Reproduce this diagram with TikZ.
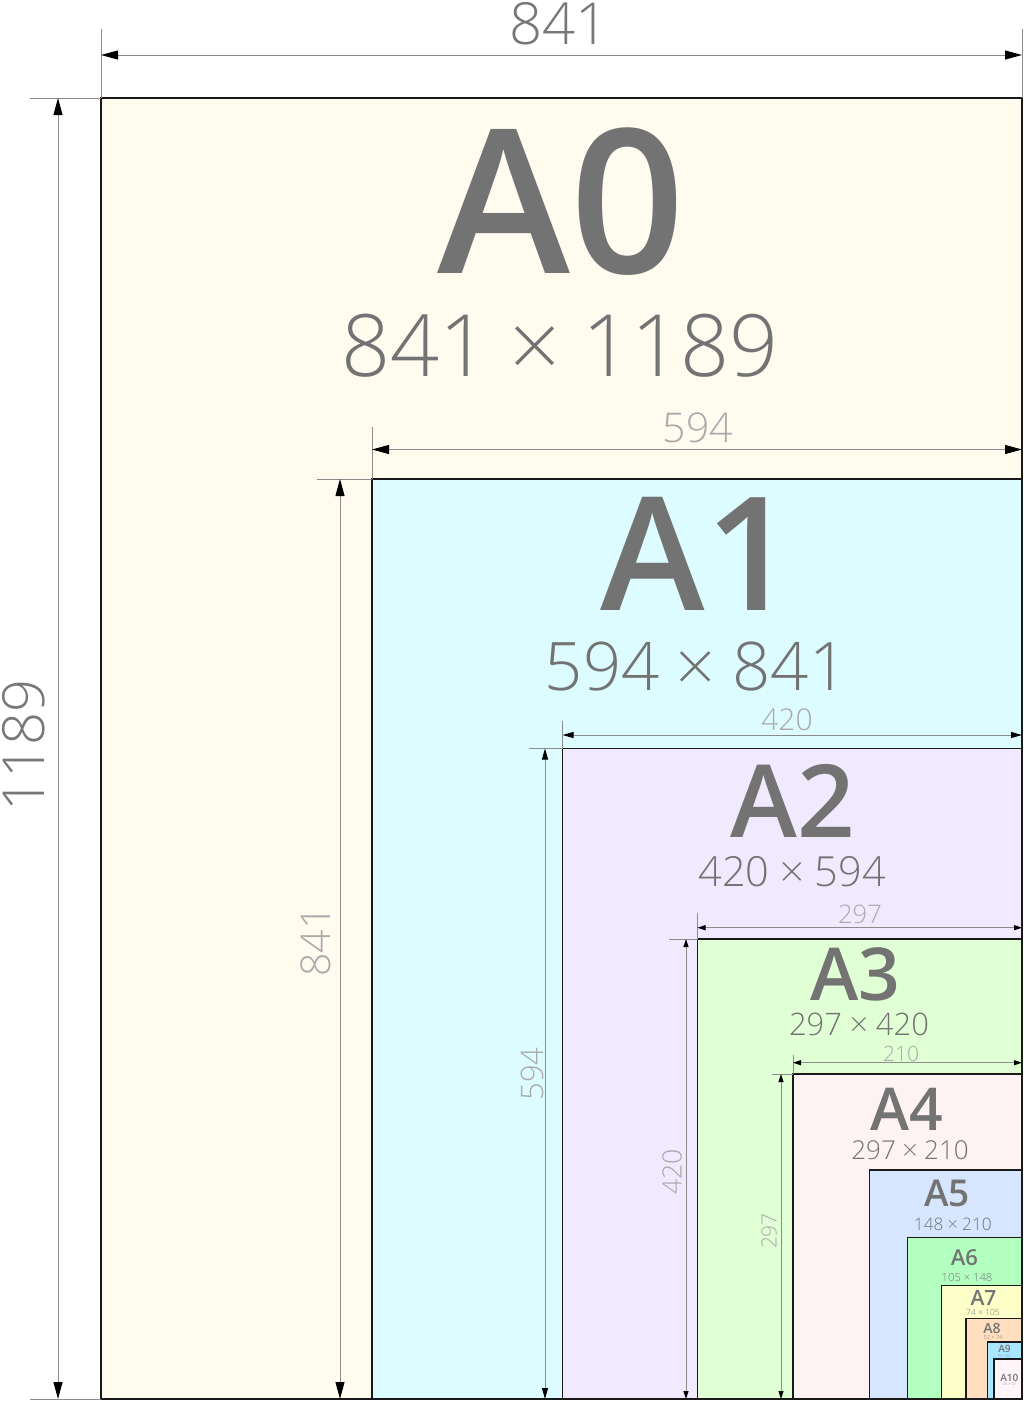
\documentclass[tikz,border=0pt]{standalone}
\usepackage{fontspec}
\setmainfont{Open Sans}
\newfontfamily\numfont{Open Sans Light}
\newfontfamily\labfont{Open Sans Semibold}
\usetikzlibrary{arrows.meta}
\definecolor{c0}{HTML}{FFFBEF}
\definecolor{c1}{HTML}{DCFCFF}
\definecolor{c2}{HTML}{F1EAFE}
\definecolor{c3}{HTML}{E0FFD4}
\definecolor{c4}{HTML}{FFF2F2}
\definecolor{c5}{HTML}{D6E6FF}
\definecolor{c6}{HTML}{B3FFC0}
\definecolor{c7}{HTML}{FDFFC8}
\definecolor{c8}{HTML}{FFDFC0}
\definecolor{c9}{HTML}{AAE6FF}
\definecolor{c10}{HTML}{FFF4F8}
\definecolor{labgray}{HTML}{737373}
\definecolor{dimtxt}{HTML}{AAAAAA}
\definecolor{bigdimtxt}{HTML}{777777}
\definecolor{dimgray}{HTML}{8C8C8C}
\newcommand\fs[1]{\fontsize{#1}{#1}\selectfont}
\tikzset{
  paper/.style={draw=black!90, line width=1.5pt},
  dimline/.style={draw=dimgray, line width=1pt},
  lab/.style={anchor=base, inner sep=0pt, text=labgray},
  dimlab/.style={anchor=base, inner sep=0pt, text=dimtxt},
  bigdimlab/.style={anchor=base, inner sep=0pt, text=bigdimtxt},
  dimA/.style={dimline, {Triangle[length=17pt,width=9pt,color=black]}-{Triangle[length=17pt,width=9pt,color=black]}},
  dimB/.style={dimline, {Triangle[length=11pt,width=6pt,color=black]}-{Triangle[length=11pt,width=6pt,color=black]}},
  dimC/.style={dimline, {Triangle[length=8pt,width=5pt,color=black]}-{Triangle[length=8pt,width=5pt,color=black]}},
}
\begin{document}
\begin{tikzpicture}[x=1pt,y=-1pt]
\fill[white] (0,0) rectangle (1024,1401);
\useasboundingbox (0,0) rectangle (1024,1401);
% corners
\coordinate (br) at (1022,1399);
\coordinate (p0) at (101,98);
\coordinate (p1) at (372,479);
\coordinate (p2) at (562.5,748.5);
\coordinate (p3) at (697.5,939);
\coordinate (p4) at (793,1074);
\coordinate (p5) at (869.3,1170);
\coordinate (p6) at (907.7,1237.7);
\coordinate (p7) at (941.7,1285.3);
\coordinate (p8) at (966,1318.7);
\coordinate (p9) at (987.5,1342.2);
\coordinate (p10) at (994.2,1359.2);
% papers
\draw[paper, fill=c0] (p0) rectangle (br);
\draw[paper, fill=c1] (p1) rectangle (br);
\draw[paper, fill=c2] (p2) rectangle (br);
\draw[paper, fill=c3] (p3) rectangle (br);
\draw[paper, fill=c4] (p4) rectangle (br);
\draw[paper, fill=c5] (p5) rectangle (br);
\draw[paper, fill=c6] (p6) rectangle (br);
\draw[paper, fill=c7] (p7) rectangle (br);
\draw[paper, fill=c8] (p8) rectangle (br);
\draw[paper, fill=c9] (p9) rectangle (br);
\draw[paper, fill=c10] (p10) rectangle (br);
% ---- A0 dimensions
\coordinate (e0a) at (101,29); \coordinate (e0b) at (1022,29); \coordinate (e0c) at (1022,98);
\coordinate (e0d) at (30,98); \coordinate (e0e) at (30,1399); \coordinate (e0f) at (101,1399);
\draw[dimline] (e0a) -- (p0);
\draw[dimline] (e0b) -- (e0c);
\draw[dimline] (e0d) -- (p0);
\draw[dimline] (e0e) -- (e0f);
\coordinate (h0a) at (101,55); \coordinate (h0b) at (1022,55);
\coordinate (v0a) at (58,98); \coordinate (v0b) at (58,1399);
\draw[dimA] (h0a) -- (h0b);
\draw[dimA] (v0a) -- (v0b);
\node[bigdimlab, font=\numfont\fs{58}] (t0h) at (559,44) {841};
\node[bigdimlab, rotate=90, font=\numfont\fs{58}] (t0v) at (44,745.5) {1189};
% ---- A1 dimensions
\coordinate (e1a) at (372,427); \coordinate (e1d) at (317,479);
\draw[dimline] (e1a) -- (p1);
\draw[dimline] (e1d) -- (p1);
\coordinate (h1a) at (372,449.5); \coordinate (h1b) at (1022,449.5);
\coordinate (v1a) at (340,479); \coordinate (v1b) at (340,1399);
\draw[dimA] (h1a) -- (h1b);
\draw[dimA] (v1a) -- (v1b);
\node[dimlab, font=\numfont\fs{41}] (t1h) at (698,442.7) {594};
\node[dimlab, rotate=90, font=\numfont\fs{41}] (t1v) at (330,941.5) {841};
% ---- A2 dimensions
\coordinate (e2a) at (562.5,721); \coordinate (e2d) at (529,748.5);
\draw[dimline] (e2a) -- (p2);
\draw[dimline] (e2d) -- (p2);
\coordinate (h2a) at (562.5,735); \coordinate (h2b) at (1022,735);
\coordinate (v2a) at (545,748.5); \coordinate (v2b) at (545,1399);
\draw[dimB] (h2a) -- (h2b);
\draw[dimB] (v2a) -- (v2b);
\node[dimlab, font=\numfont\fs{30}] (t2h) at (787,730.7) {420};
\node[dimlab, rotate=90, font=\numfont\fs{31}] (t2v) at (543.3,1074) {594};
% ---- A3 dimensions
\coordinate (e3a) at (697.5,913); \coordinate (e3d) at (669,939);
\draw[dimline] (e3a) -- (p3);
\draw[dimline] (e3d) -- (p3);
\coordinate (h3a) at (697.5,927.7); \coordinate (h3b) at (1022,927.7);
\coordinate (v3a) at (686,939); \coordinate (v3b) at (686,1399);
\draw[dimC] (h3a) -- (h3b);
\draw[dimC] (v3a) -- (v3b);
\node[dimlab, font=\numfont\fs{25.6}] (t3h) at (860,923.3) {297};
\node[dimlab, rotate=90, font=\numfont\fs{26.6}] (t3v) at (681.7,1172) {420};
% ---- A4 dimensions
\coordinate (e4a) at (793,1055); \coordinate (e4d) at (772,1074);
\draw[dimline] (e4a) -- (p4);
\draw[dimline] (e4d) -- (p4);
\coordinate (h4a) at (793,1062.7); \coordinate (h4b) at (1022,1062.7);
\coordinate (v4a) at (781,1074); \coordinate (v4b) at (781,1399);
\draw[dimC] (h4a) -- (h4b);
\draw[dimC] (v4a) -- (v4b);
\node[dimlab, font=\numfont\fs{21}] (t4h) at (901,1061.7) {210};
\node[dimlab, rotate=90, font=\numfont\fs{21}] (t4v) at (776.7,1231) {297};
% ---- labels
\node[lab, font=\labfont\fs{201}] (n0) at (561,273.3) {A0};
\node[lab, font=\numfont\fs{86}] (s0) at (560,376.7) {841 × 1189};
\node[lab, font=\labfont\fs{158}] (n1) at (698,610) {A1};
\node[lab, font=\numfont\fs{67}] (s1) at (696,690) {594 × 841};
\node[lab, font=\labfont\fs{101}] (n2) at (793,837) {A2};
\node[lab, font=\numfont\fs{41.5}] (s2) at (792,886.7) {420 × 594};
\node[lab, font=\labfont\fs{73}] (n3) at (855,1000) {A3};
\node[lab, font=\numfont\fs{31}] (s3) at (859,1035.5) {297 × 420};
\node[lab, font=\labfont\fs{59}] (n4) at (907,1130) {A4};
\node[lab, font=\numfont\fs{26}] (s4) at (910,1159.5) {297 × 210};
\node[lab, font=\labfont\fs{37}] (n5) at (947,1206.7) {A5};
\node[lab, font=\numfont\fs{17.2}] (s5) at (952.8,1230) {148 × 210};
\node[lab, font=\labfont\fs{22}] (n6) at (964.5,1265) {A6};
\node[lab, font=\numfont\fs{11.2}] (s6) at (967,1281) {105 × 148};
\node[lab, font=\labfont\fs{21}] (n7) at (983.5,1305) {A7};
\node[lab, font=\numfont\fs{8.5}] (s7) at (983,1315) {74 × 105};
\node[lab, font=\labfont\fs{14}] (n8) at (992,1333.3) {A8};
\node[lab, font=\numfont\fs{5.5}] (s8) at (993,1339.3) {52 × 74};
\node[lab, font=\labfont\fs{10}] (n9) at (1004.5,1352.7) {A9};
\node[lab, font=\numfont\fs{3.8}] (s9) at (1004,1357.3) {37 × 52};
\node[lab, font=\labfont\fs{10}] (n10) at (1009.3,1381) {A10};
\node[lab, font=\numfont\fs{3.8}] (s10) at (1009.7,1385) {26 × 37};
\end{tikzpicture}
\end{document}
